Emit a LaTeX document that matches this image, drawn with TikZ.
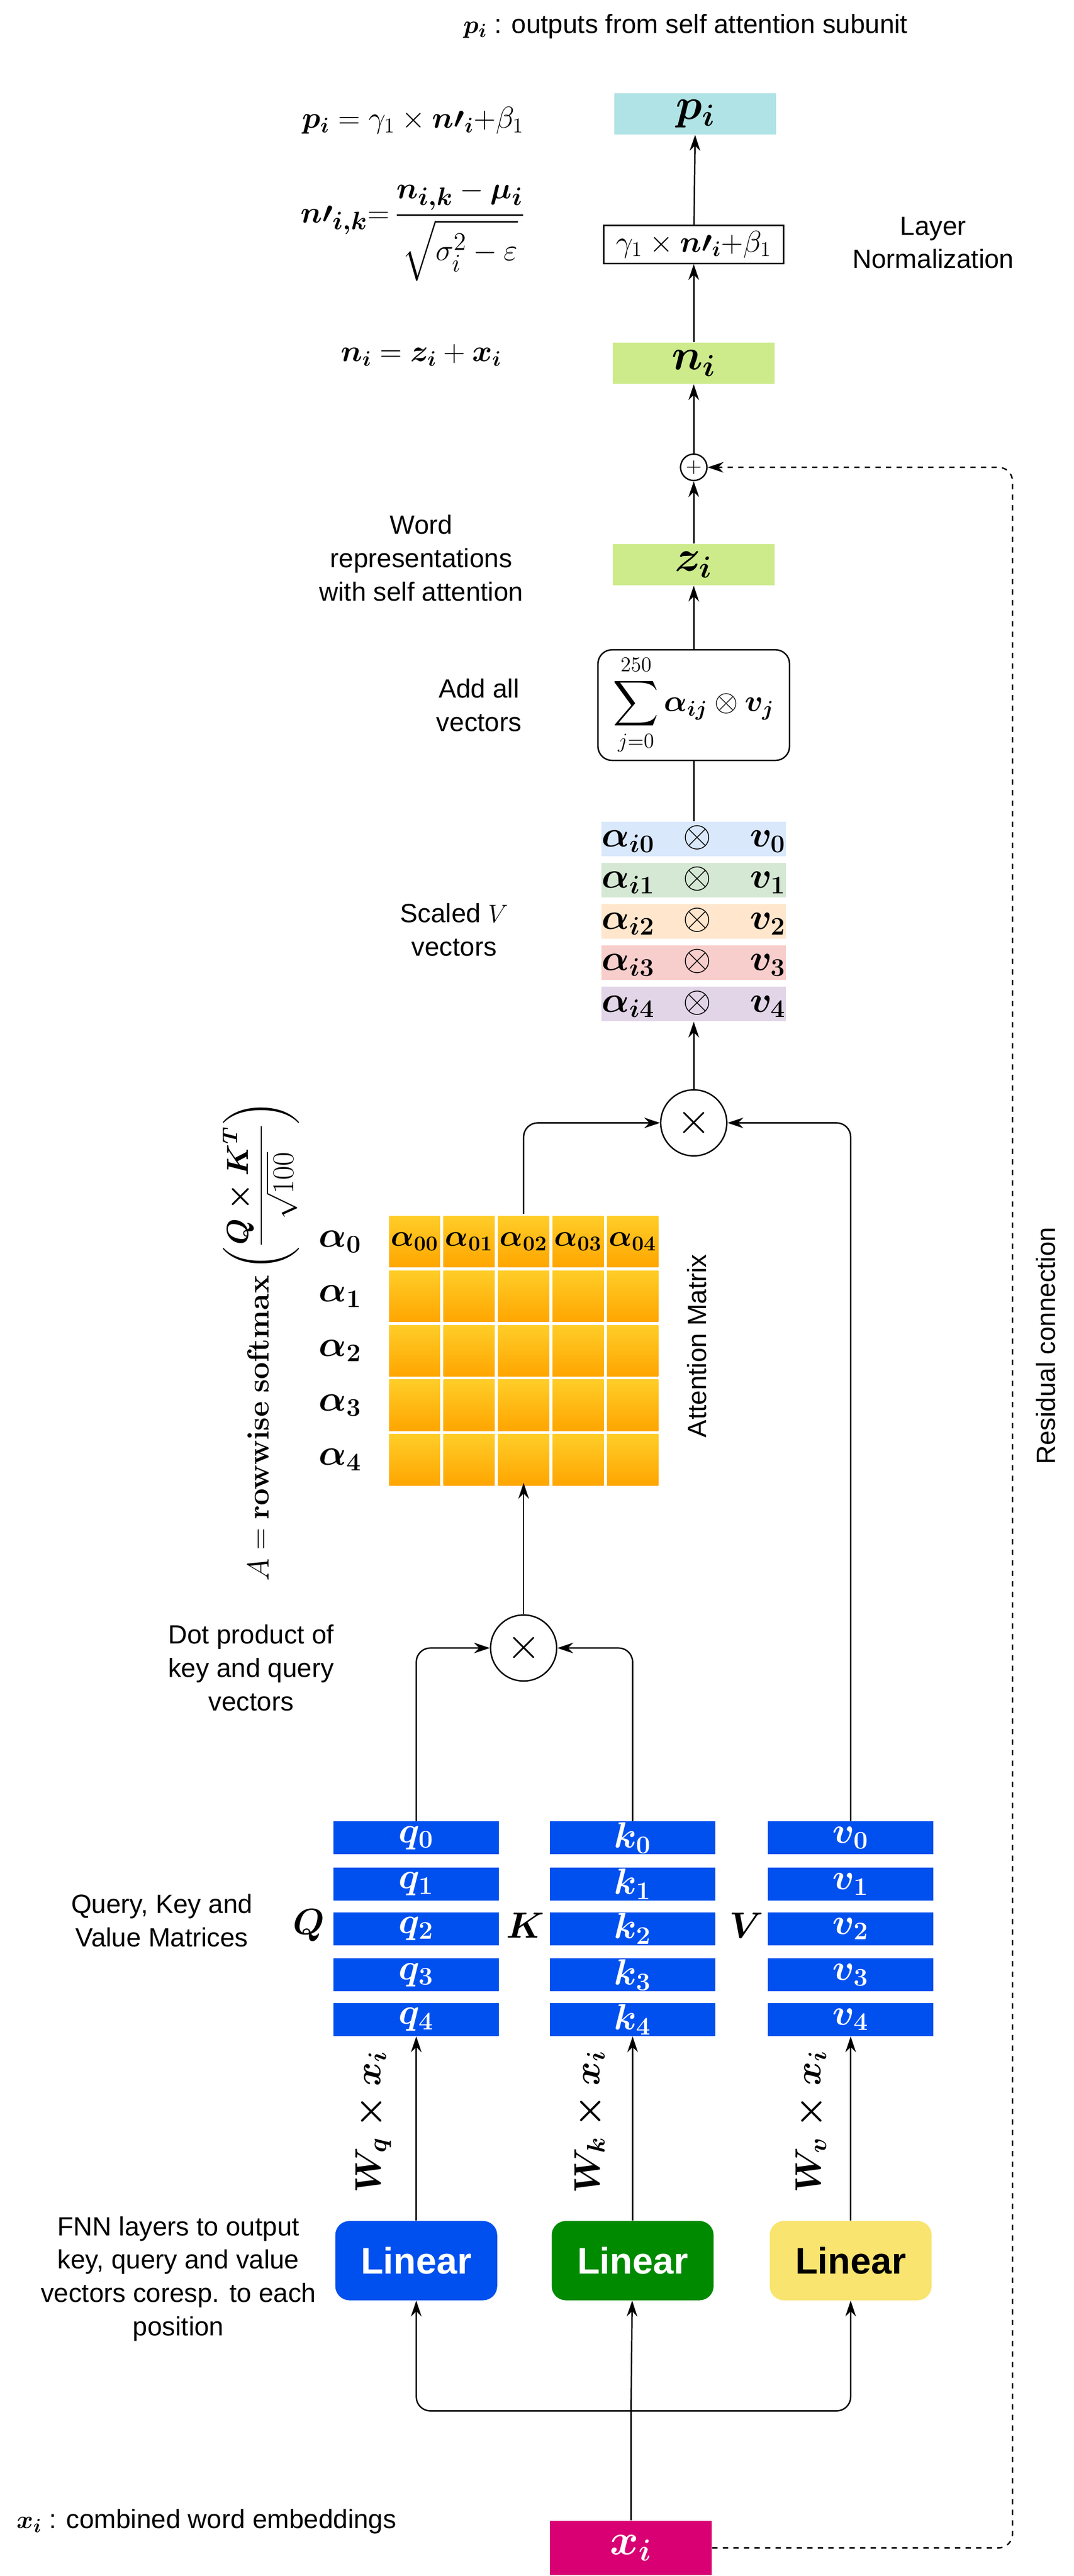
\documentclass[tikz,border=0pt]{standalone}
\usepackage{amsmath,amssymb}
\usepackage[no-math]{fontspec}
\setmainfont{Liberation Sans}
\usetikzlibrary{calc,arrows.meta}
\definecolor{qblue}{HTML}{0050EF}
\definecolor{kgreen}{HTML}{008A00}
\definecolor{vyel}{HTML}{F8E46F}
\definecolor{xmag}{HTML}{D80073}
\definecolor{pcyan}{HTML}{B0E3E6}
\definecolor{zlime}{HTML}{CDEB8B}
\definecolor{mtop}{HTML}{FFCD28}
\definecolor{mbot}{HTML}{FFA500}
\definecolor{r0}{HTML}{DAE8FC}
\definecolor{r1}{HTML}{D5E8D4}
\definecolor{r2}{HTML}{FFE6CC}
\definecolor{r3}{HTML}{F8CECC}
\definecolor{r4}{HTML}{E1D5E7}
\begin{document}
\begin{tikzpicture}[x=0.033cm,y=-0.033cm,
  txt/.style={font=\fontsize{15}{19}\selectfont,align=center},
  box/.style={minimum width=98*0.033cm,minimum height=25*0.033cm,inner sep=0,font=\fontsize{26}{28}\selectfont},
  vec/.style={fill=qblue,text=white,minimum width=100*0.033cm,minimum height=20*0.033cm,inner sep=0,font=\fontsize{21}{22}\selectfont},
  srow/.style={minimum width=100*0.033cm,minimum height=21*0.033cm,inner sep=0,font=\fontsize{21}{22}\selectfont},
  cell/.style={top color=mtop,bottom color=mbot,draw=none,minimum size=31*0.033cm,inner sep=0,font=\fontsize{17}{18}\selectfont},
  lin/.style={rounded corners=8pt,minimum width=98*0.033cm,minimum height=48*0.033cm,inner sep=0,font=\fontsize{21}{22}\selectfont\bfseries},
  arr/.style={-{Stealth[length=9pt,width=6pt]},line width=0.8pt,rounded corners=8pt},
  big/.style={font=\fontsize{21}{22}\selectfont}]
\useasboundingbox (0,0) rectangle (650,1560);

% top part
\node[txt] (cap) at (415,16) {$\boldsymbol{p_i}$ : outputs from self attention subunit};
\node[box,fill=pcyan] (p) at (421,69) {$\boldsymbol{p_i}$};
\node[font=\fontsize{18}{18}\selectfont] (peq) at (250,73) {$\boldsymbol{p_i} = \gamma_1 \times \boldsymbol{n\prime_i}{+}\beta_1$};
\node[font=\fontsize{19}{18}\selectfont] (neq) at (250,140) {$\boldsymbol{n\prime_{i,k}}{=}\,\dfrac{\boldsymbol{n_{i,k}} - \boldsymbol{\mu_i}}{\sqrt{\sigma_i^2 - \varepsilon}}$};
\node[draw,line width=0.8pt,minimum width=109*0.033cm,minimum height=23*0.033cm,inner sep=0,font=\fontsize{18}{18}\selectfont] (g) at (420,148) {$\gamma_1 \times \boldsymbol{n\prime_i}{+}\beta_1$};
\node[txt] (ln) at (565,147) {Layer\\Normalization};
\node[font=\fontsize{18}{18}\selectfont] (nieq) at (255,215) {$\boldsymbol{n_i} = \boldsymbol{z_i} + \boldsymbol{x_i}$};
\node[box,fill=zlime] (n) at (420,220) {$\boldsymbol{n_i}$};
\node[circle,draw,line width=0.8pt,minimum size=16*0.033cm,inner sep=0,font=\fontsize{12}{12}\selectfont] (plus) at (420,283) {$+$};
\node[txt] (wr) at (255,338) {Word\\representations\\with self attention};
\node[box,fill=zlime] (z) at (420,342) {$\boldsymbol{z_i}$};
\node[txt] (aa) at (290,427) {Add all\\vectors};
\node[draw,line width=0.8pt,rounded corners=8pt,minimum width=116*0.033cm,minimum height=67*0.033cm,inner sep=0,font=\fontsize{18}{18}\selectfont] (sum) at (420,427) {$\displaystyle\sum_{j=0}^{250}\boldsymbol{\alpha_{ij}}\otimes \boldsymbol{v_j}$};

% scaled V rows
\foreach \i/\c/\y in {0/r0/508,1/r1/533,2/r2/558,3/r3/583,4/r4/608}{
  \node[srow,fill=\c] (s\i) at (420,\y) {$\boldsymbol{\alpha_{i\i}}\;\;\otimes\;\;\; \boldsymbol{v_\i}$};
}
\node[txt] (sv) at (275,563) {Scaled $V$\\vectors};
\node[circle,draw,line width=0.8pt,minimum size=40*0.033cm,inner sep=0,font=\fontsize{30}{30}\selectfont] (m2) at (420,680) {$\times$};

% attention matrix
\foreach \r/\y in {0/752,1/785,2/818,3/851,4/884}{
  \node[big] (al\r) at (206,\y) {$\boldsymbol{\alpha_\r}$};
  \foreach \c/\x in {0/251,1/284,2/317,3/350,4/383}{
    \node[cell] (c\r\c) at (\x,\y) {};
  }
}
\foreach \c in {0,...,4}{ \node[font=\fontsize{17}{18}\selectfont] at (c0\c) {$\boldsymbol{\alpha_{0\c}}$}; }
\node[rotate=90,font=\fontsize{18}{18}\selectfont] (aeq) at (158,812) {$A = \mathbf{rowwise\ softmax}\left(\dfrac{\boldsymbol{Q\times K^T}}{\sqrt{100}}\right)$};
\node[txt,rotate=90] (am) at (422,815) {Attention Matrix};
\node[txt,rotate=90] (rc) at (633,815) {Residual connection};
\coordinate (mtop) at (317,735);
\coordinate (mbotc) at (317,898);

% dot product
\node[circle,draw,line width=0.8pt,minimum size=40*0.033cm,inner sep=0,font=\fontsize{30}{30}\selectfont] (m1) at (317,998) {$\times$};
\node[txt] (dp) at (152,1010) {Dot product of\\key and query\\vectors};

% Q K V
\foreach \n/\x in {q/252,k/383,v/515}{
  \foreach \i/\y in {0/1113,1/1141,2/1168,3/1196,4/1223}{
    \node[vec] (\n\i) at (\x,\y) {$\boldsymbol{\n_\i}$};
  }
}
\node[big] (Ql) at (187,1166) {$\boldsymbol{Q}$};
\node[big] (Kl) at (318,1166) {$\boldsymbol{K}$};
\node[big] (Vl) at (452,1166) {$\boldsymbol{V}$};
\node[txt] (qkv) at (98,1163) {Query, Key and\\Value Matrices};
\node[big,rotate=90] (wq) at (226,1285) {$\boldsymbol{W_q \times x_i}$};
\node[big,rotate=90] (wk) at (357,1285) {$\boldsymbol{W_k \times x_i}$};
\node[big,rotate=90] (wv) at (491,1285) {$\boldsymbol{W_v \times x_i}$};

\node[lin,fill=qblue,text=white] (lq) at (252,1369) {Linear};
\node[lin,fill=kgreen,text=white] (lk) at (383,1369) {Linear};
\node[lin,fill=vyel] (lv) at (515,1369) {Linear};
\node[txt] (fnn) at (108,1380) {FNN layers to output\\key, query and value\\vectors coresp. to each\\position};

\node[box,fill=xmag,text=white,minimum height=33*0.033cm] (x) at (382,1543) {$\boldsymbol{x_i}$};
\node[txt] (xc) at (125,1527) {$\boldsymbol{x_i}$ : combined word embeddings};
\coordinate (br) at (382,1460);
\coordinate (rr) at (613,1543);
\coordinate (rt) at (613,283);

% connectors
\draw[arr] (g) -- (p);
\draw[arr] (n) -- (g);
\draw[arr] (plus) -- (n);
\draw[arr] (z) -- (plus);
\draw[arr] (sum) -- (z);
\draw[line width=0.8pt] (s0.north) -- (sum);
\draw[arr] (m2) -- (s4);
\draw[arr] (mtop) |- (m2);
\draw[arr] (v0.north) |- (m2);
\draw[arr] (m1) -- (mbotc);
\draw[arr] (q0.north) |- (m1);
\draw[arr] (k0.north) |- (m1);
\draw[arr] (lq) -- (q4);
\draw[arr] (lk) -- (k4);
\draw[arr] (lv) -- (v4);
\draw[line width=0.8pt] (x) -- (br);
\draw[arr] (br) -| (lq);
\draw[arr] (br) -| (lv);
\draw[arr] (br) -- (lk);
\draw[arr,dashed] (x) -- (rr) -- (rt) -- (plus);
\end{tikzpicture}
\end{document}
